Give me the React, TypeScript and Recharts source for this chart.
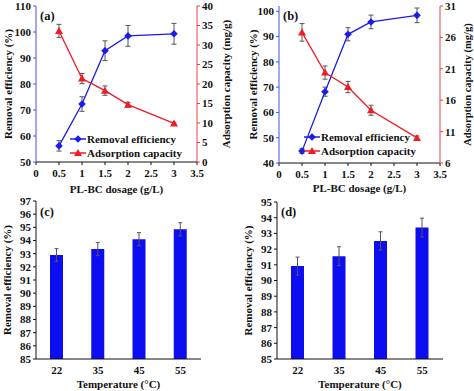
import React from 'react';
import { ComposedChart, Line, Bar, XAxis, YAxis, ErrorBar, Legend } from 'recharts';

// dosage experiments, panels (a) and (b)
const dosage = [0.5, 1, 1.5, 2, 3];
const removalA = [56.2, 72.3, 92.8, 98.5, 99.3];
const removalAErr = [2.0, 2.8, 3.8, 4.0, 4.0];
const capacityA = [33.6, 21.4, 18.3, 14.7, 9.9];
const capacityAErr = [1.7, 1.3, 1.2, 0.6, 0.3];
const removalB = [44.7, 68.2, 90.9, 95.8, 98.4];
const removalBErr = [0.9, 1.8, 2.6, 2.7, 2.9];
const capacityB = [26.8, 20.4, 18.1, 14.4, 10.0];
const capacityBErr = [1.4, 1.05, 0.9, 0.8, 0.3];

// temperature experiments, panels (c) and (d)
const temperatures = ['22', '35', '45', '55'];
const removalC = [92.9, 93.35, 94.1, 94.85];
const removalCErr = [0.48, 0.5, 0.5, 0.5];
const removalD = [90.92, 91.55, 92.52, 93.37];
const removalDErr = [0.57, 0.6, 0.58, 0.6];

const dosageTicks = [0, 0.5, 1, 1.5, 2, 2.5, 3, 3.5];

const FONT = '"Liberation Serif", "Times New Roman", serif';
const BLUE = '#1c1ce8';
const RED = '#ee1c25';
const BLUE_AXIS = '#4356e0';
const RED_AXIS = '#e8404a';
const BAR_BLUE = '#0d0df2';
const ERR = '#555';

const tickStyle = { fontSize: 11, fontFamily: FONT, fontWeight: 700, fill: '#111' };
const titleStyle = { fontSize: 11, fontFamily: FONT, fontWeight: 700, fill: '#111' };

const rowsA = dosage.map((x, i) => ({
  x,
  re: removalA[i],
  reErr: removalAErr[i],
  ac: capacityA[i],
  acErr: capacityAErr[i],
}));
const rowsB = dosage.map((x, i) => ({
  x,
  re: removalB[i],
  reErr: removalBErr[i],
  ac: capacityB[i],
  acErr: capacityBErr[i],
}));
const rowsC = temperatures.map((t, i) => ({ t, re: removalC[i], err: removalCErr[i] }));
const rowsD = temperatures.map((t, i) => ({ t, re: removalD[i], err: removalDErr[i] }));

function YTitle(props: any) {
  const { viewBox, value, dx, size } = props;
  const cx = viewBox.x + dx;
  const cy = viewBox.y + viewBox.height / 2;
  return (
    <text
      x={cx}
      y={cy}
      transform={`rotate(-90 ${cx} ${cy})`}
      textAnchor="middle"
      dominantBaseline="central"
      style={{ ...titleStyle, fontSize: size || titleStyle.fontSize }}
    >
      {value}
    </text>
  );
}

function XTitle(props: any) {
  const { viewBox, value, dy } = props;
  return (
    <text
      x={viewBox.x + viewBox.width / 2}
      y={viewBox.y + dy}
      textAnchor="middle"
      dominantBaseline="central"
      style={titleStyle}
    >
      {value}
    </text>
  );
}

const diamond = (props: any) => {
  const { cx, cy, index } = props;
  const r = 3.8;
  return (
    <path
      key={`d-${index}`}
      d={`M${cx},${cy - r}L${cx + r},${cy}L${cx},${cy + r}L${cx - r},${cy}Z`}
      fill={BLUE}
    />
  );
};

const triangle = (props: any) => {
  const { cx, cy, index } = props;
  return (
    <path
      key={`t-${index}`}
      d={`M${cx},${cy - 4}L${cx + 4},${cy + 3}L${cx - 4},${cy + 3}Z`}
      fill={RED}
    />
  );
};

function PanelLegend() {
  const row = (color: string, shape: 'd' | 't', text: string) => (
    <div style={{ display: 'flex', alignItems: 'center', height: 14 }}>
      <svg width={16} height={10}>
        <line x1={0} y1={5} x2={16} y2={5} stroke={color} strokeWidth={1.5} />
        {shape === 'd' ? (
          <path d="M8,1.2L11.8,5L8,8.8L4.2,5Z" fill={color} />
        ) : (
          <path d="M8,1L12,8L4,8Z" fill={color} />
        )}
      </svg>
      <span style={{ marginLeft: 1 }}>{text}</span>
    </div>
  );
  return (
    <div style={{ fontFamily: FONT, fontWeight: 700, fontSize: 11, color: '#111', whiteSpace: 'nowrap' }}>
      {row(BLUE, 'd', 'Removal efficiency')}
      {row(RED, 't', 'Adsorption capacity')}
    </div>
  );
}

function PanelTag({ x, y, text }: { x: number; y: number; text: string }) {
  return (
    <div
      style={{
        position: 'absolute',
        left: x,
        top: y,
        fontFamily: FONT,
        fontWeight: 700,
        fontSize: 12.5,
        color: '#111',
      }}
    >
      {text}
    </div>
  );
}

export default function App() {
  return (
    <div style={{ position: 'absolute', left: 0, top: 0, width: 474, height: 391, background: '#fff', overflow: 'hidden' }}>
      {/* (a) */}
      <div style={{ position: 'absolute', left: 0, top: 0 }}>
        <ComposedChart width={237} height={195} data={rowsA} margin={{ top: 6, right: 12, bottom: 0, left: 0 }}>
          <XAxis
            type="number"
            dataKey="x"
            domain={[0, 3.5]}
            ticks={dosageTicks}
            interval={0}
            height={33}
            tick={tickStyle}
            tickSize={3}
            tickMargin={4}
            stroke="#111"
            label={<XTitle value="PL-BC dosage (g/L)" dy={27} />}
          />
          <XAxis xAxisId="top" type="number" orientation="top" domain={[0, 3.5]} height={0} tick={false} tickLine={false} stroke="#111" />
          <YAxis
            yAxisId="left"
            domain={[50, 110]}
            ticks={[50, 60, 70, 80, 90, 100, 110]}
            interval={0}
            allowDataOverflow
            width={36}
            tick={tickStyle}
            tickSize={3}
            tickMargin={2}
            stroke={BLUE_AXIS}
            label={<YTitle value="Removal efficiency (%)" dx={8} />}
          />
          <YAxis
            yAxisId="right"
            orientation="right"
            domain={[0, 40]}
            ticks={[0, 5, 10, 15, 20, 25, 30, 35, 40]}
            interval={0}
            allowDataOverflow
            width={28}
            tick={tickStyle}
            tickSize={3}
            tickMargin={2}
            stroke={RED_AXIS}
            label={<YTitle value="Adsorption capacity (mg/g)" dx={29} />}
          />
          <Line yAxisId="left" dataKey="re" stroke={BLUE} strokeWidth={1.3} dot={diamond} activeDot={false} isAnimationActive={false}>
            <ErrorBar dataKey="reErr" width={2.5} stroke={ERR} strokeWidth={1} direction="y" />
          </Line>
          <Line yAxisId="right" dataKey="ac" stroke={RED} strokeWidth={1.3} dot={triangle} activeDot={false} isAnimationActive={false}>
            <ErrorBar dataKey="acErr" width={2.5} stroke={ERR} strokeWidth={1} direction="y" />
          </Line>
          <Legend
            layout="vertical"
            align="center"
            verticalAlign="middle"
            content={<PanelLegend />}
            wrapperStyle={{ left: 70, top: 132, width: 'auto' }}
          />
        </ComposedChart>
        <PanelTag x={40} y={9} text="(a)" />
      </div>

      {/* (b) */}
      <div style={{ position: 'absolute', left: 236, top: 0 }}>
        <ComposedChart width={238} height={195} data={rowsB} margin={{ top: 6, right: 8, bottom: 0, left: 0 }}>
          <XAxis
            type="number"
            dataKey="x"
            domain={[0, 3.5]}
            ticks={dosageTicks}
            interval={0}
            height={32}
            tick={tickStyle}
            tickSize={3}
            tickMargin={4}
            stroke="#111"
            label={<XTitle value="PL-BC dosage (g/L)" dy={25} />}
          />
          <XAxis xAxisId="top" type="number" orientation="top" domain={[0, 3.5]} height={0} tick={false} tickLine={false} stroke="#111" />
          <YAxis
            yAxisId="left"
            domain={[40, 102.1]}
            ticks={[40, 50, 60, 70, 80, 90, 100]}
            interval={0}
            allowDataOverflow
            width={43}
            tick={tickStyle}
            tickSize={3}
            tickMargin={2}
            stroke={BLUE_AXIS}
            label={<YTitle value="Removal efficiency (%)" dx={17} />}
          />
          <YAxis
            yAxisId="right"
            orientation="right"
            domain={[6, 31]}
            ticks={[6, 11, 16, 21, 26, 31]}
            interval={0}
            allowDataOverflow
            width={26}
            tick={tickStyle}
            tickSize={3}
            tickMargin={2}
            stroke={RED_AXIS}
            label={<YTitle value="Adsorption capacity (mg/g)" dx={27} size={10.5} />}
          />
          <Line yAxisId="left" dataKey="re" stroke={BLUE} strokeWidth={1.3} dot={diamond} activeDot={false} isAnimationActive={false}>
            <ErrorBar dataKey="reErr" width={2.5} stroke={ERR} strokeWidth={1} direction="y" />
          </Line>
          <Line yAxisId="right" dataKey="ac" stroke={RED} strokeWidth={1.3} dot={triangle} activeDot={false} isAnimationActive={false}>
            <ErrorBar dataKey="acErr" width={2.5} stroke={ERR} strokeWidth={1} direction="y" />
          </Line>
          <Legend
            layout="vertical"
            align="center"
            verticalAlign="middle"
            content={<PanelLegend />}
            wrapperStyle={{ left: 68, top: 130, width: 'auto' }}
          />
        </ComposedChart>
        <PanelTag x={47} y={9} text="(b)" />
      </div>

      {/* (c) */}
      <div style={{ position: 'absolute', left: 0, top: 195 }}>
        <ComposedChart width={237} height={196} data={rowsC} margin={{ top: 6, right: 36, bottom: 0, left: 0 }}>
          <XAxis
            dataKey="t"
            interval={0}
            height={32}
            tick={tickStyle}
            tickSize={0}
            tickMargin={7}
            stroke="#111"
            label={<XTitle value="Temperature (°C)" dy={25} />}
          />
          <XAxis xAxisId="top" orientation="top" dataKey="t" height={0} tick={false} tickLine={false} stroke="#111" />
          <YAxis
            domain={[85, 97]}
            ticks={[85, 86, 87, 88, 89, 90, 91, 92, 93, 94, 95, 96, 97]}
            interval={0}
            allowDataOverflow
            width={36}
            tick={tickStyle}
            tickSize={3}
            tickMargin={2}
            stroke="#111"
            label={<YTitle value="Removal efficiency (%)" dx={7} />}
          />
          <YAxis yAxisId="r" orientation="right" width={0} tick={false} tickLine={false} stroke="#111" />
          <Bar dataKey="re" fill={BAR_BLUE} barSize={13} isAnimationActive={false}>
            <ErrorBar dataKey="err" width={2} stroke={ERR} strokeWidth={1} direction="y" />
          </Bar>
        </ComposedChart>
        <PanelTag x={40} y={10} text="(c)" />
      </div>

      {/* (d) */}
      <div style={{ position: 'absolute', left: 236, top: 195 }}>
        <ComposedChart width={238} height={196} data={rowsD} margin={{ top: 7, right: 31, bottom: 0, left: 0 }}>
          <XAxis
            dataKey="t"
            interval={0}
            height={32}
            tick={tickStyle}
            tickSize={0}
            tickMargin={7}
            stroke="#111"
            label={<XTitle value="Temperature (°C)" dy={25} />}
          />
          <XAxis xAxisId="top" orientation="top" dataKey="t" height={0} tick={false} tickLine={false} stroke="#111" />
          <YAxis
            domain={[85, 95]}
            ticks={[85, 86, 87, 88, 89, 90, 91, 92, 93, 94, 95]}
            interval={0}
            allowDataOverflow
            width={41}
            tick={tickStyle}
            tickSize={3}
            tickMargin={2}
            stroke="#111"
            label={<YTitle value="Removal efficiency (%)" dx={12} />}
          />
          <YAxis yAxisId="r" orientation="right" width={0} tick={false} tickLine={false} stroke="#111" />
          <Bar dataKey="re" fill={BAR_BLUE} barSize={13} isAnimationActive={false}>
            <ErrorBar dataKey="err" width={2} stroke={ERR} strokeWidth={1} direction="y" />
          </Bar>
        </ComposedChart>
        <PanelTag x={45} y={10} text="(d)" />
      </div>
    </div>
  );
}
